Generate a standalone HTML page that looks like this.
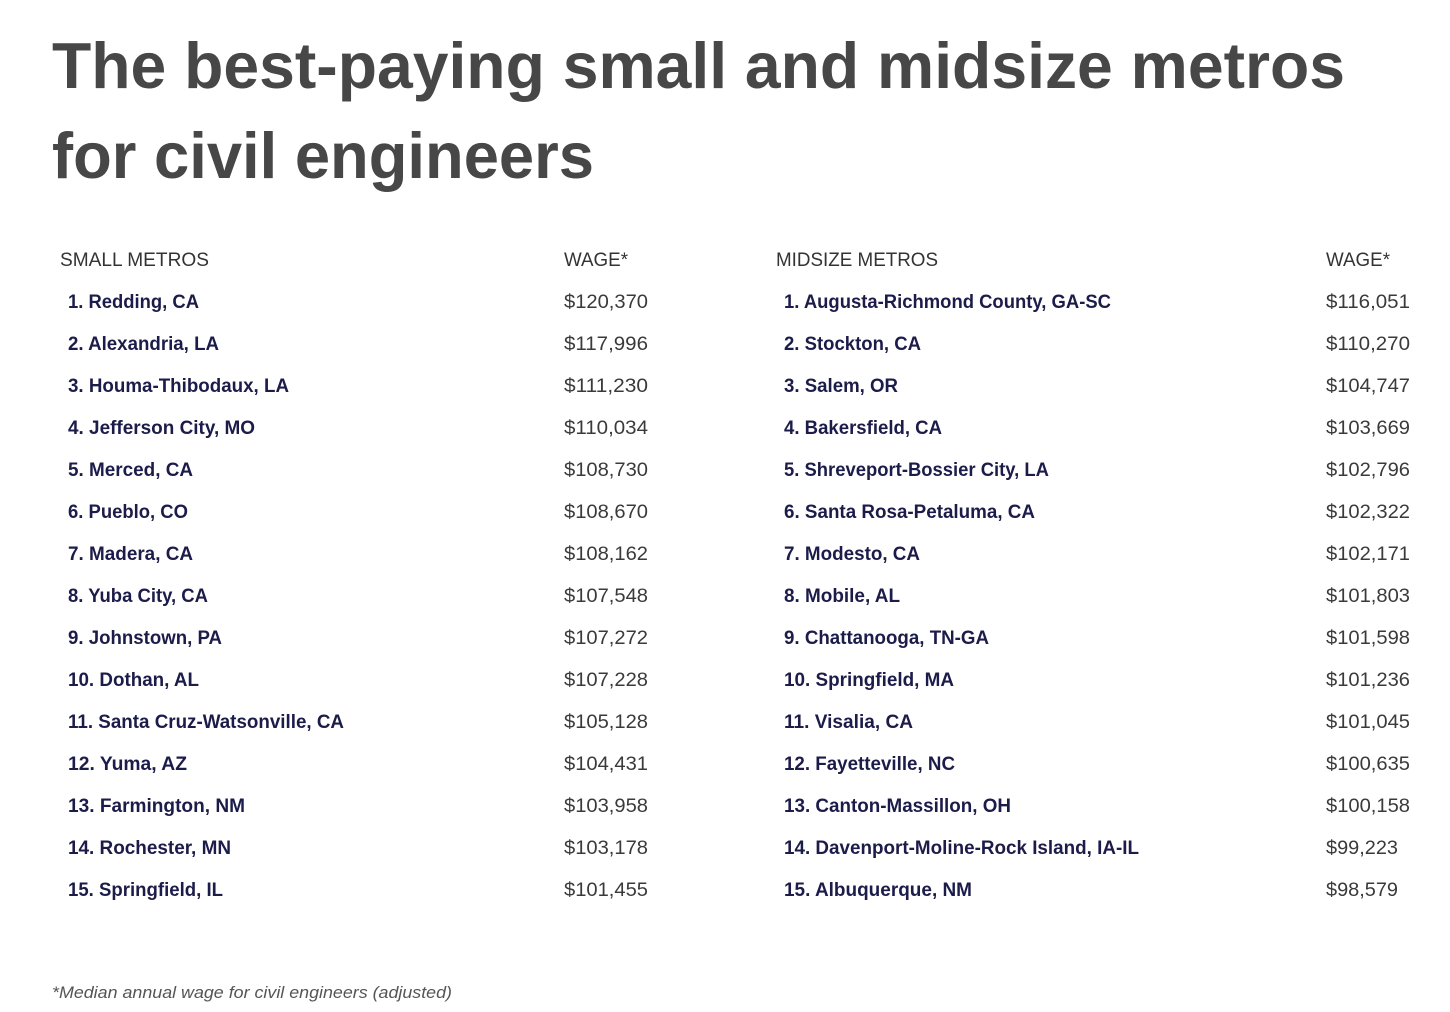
<!DOCTYPE html>
<html>
<head>
<meta charset="utf-8">
<style>
html,body{margin:0;padding:0;background:#fff;}
svg{display:block;}
.t{font-family:"Liberation Sans",sans-serif;font-weight:bold;font-size:65px;fill:#474747;}
.h{font-family:"Liberation Sans",sans-serif;font-size:19px;fill:#333333;}
.r{font-family:"Liberation Sans",sans-serif;font-weight:bold;font-size:19px;fill:#1c1c4a;}
.w{font-family:"Liberation Sans",sans-serif;font-size:19px;fill:#3a3a3a;}
.f{font-family:"Liberation Sans",sans-serif;font-style:italic;font-size:17px;fill:#555555;}
</style>
</head>
<body>
<svg width="1450" height="1012" viewBox="0 0 1450 1012" xmlns="http://www.w3.org/2000/svg">
<text class="t" x="52" y="88" textLength="1293" lengthAdjust="spacingAndGlyphs">The best-paying small and midsize metros</text>
<text class="t" x="52" y="178" textLength="542" lengthAdjust="spacingAndGlyphs">for civil engineers</text>

<text class="h" x="60" y="266" textLength="149" lengthAdjust="spacingAndGlyphs">SMALL METROS</text>
<text class="h" x="564" y="266" textLength="64" lengthAdjust="spacingAndGlyphs">WAGE*</text>
<text class="h" x="776" y="266" textLength="162" lengthAdjust="spacingAndGlyphs">MIDSIZE METROS</text>
<text class="h" x="1326" y="266" textLength="64" lengthAdjust="spacingAndGlyphs">WAGE*</text>

<g>
<text class="r" x="68" y="308" textLength="131" lengthAdjust="spacingAndGlyphs">1. Redding, CA</text>
<text class="r" x="68" y="350" textLength="151" lengthAdjust="spacingAndGlyphs">2. Alexandria, LA</text>
<text class="r" x="68" y="392" textLength="221" lengthAdjust="spacingAndGlyphs">3. Houma-Thibodaux, LA</text>
<text class="r" x="68" y="434" textLength="187" lengthAdjust="spacingAndGlyphs">4. Jefferson City, MO</text>
<text class="r" x="68" y="476" textLength="125" lengthAdjust="spacingAndGlyphs">5. Merced, CA</text>
<text class="r" x="68" y="518" textLength="120" lengthAdjust="spacingAndGlyphs">6. Pueblo, CO</text>
<text class="r" x="68" y="560" textLength="125" lengthAdjust="spacingAndGlyphs">7. Madera, CA</text>
<text class="r" x="68" y="602" textLength="140" lengthAdjust="spacingAndGlyphs">8. Yuba City, CA</text>
<text class="r" x="68" y="644" textLength="154" lengthAdjust="spacingAndGlyphs">9. Johnstown, PA</text>
<text class="r" x="68" y="686" textLength="131" lengthAdjust="spacingAndGlyphs">10. Dothan, AL</text>
<text class="r" x="68" y="728" textLength="276" lengthAdjust="spacingAndGlyphs">11. Santa Cruz-Watsonville, CA</text>
<text class="r" x="68" y="770" textLength="119" lengthAdjust="spacingAndGlyphs">12. Yuma, AZ</text>
<text class="r" x="68" y="812" textLength="177" lengthAdjust="spacingAndGlyphs">13. Farmington, NM</text>
<text class="r" x="68" y="854" textLength="163" lengthAdjust="spacingAndGlyphs">14. Rochester, MN</text>
<text class="r" x="68" y="896" textLength="155" lengthAdjust="spacingAndGlyphs">15. Springfield, IL</text>
</g>

<g>
<text class="w" x="564" y="308" textLength="84" lengthAdjust="spacingAndGlyphs">$120,370</text>
<text class="w" x="564" y="350" textLength="84" lengthAdjust="spacingAndGlyphs">$117,996</text>
<text class="w" x="564" y="392" textLength="84" lengthAdjust="spacingAndGlyphs">$111,230</text>
<text class="w" x="564" y="434" textLength="84" lengthAdjust="spacingAndGlyphs">$110,034</text>
<text class="w" x="564" y="476" textLength="84" lengthAdjust="spacingAndGlyphs">$108,730</text>
<text class="w" x="564" y="518" textLength="84" lengthAdjust="spacingAndGlyphs">$108,670</text>
<text class="w" x="564" y="560" textLength="84" lengthAdjust="spacingAndGlyphs">$108,162</text>
<text class="w" x="564" y="602" textLength="84" lengthAdjust="spacingAndGlyphs">$107,548</text>
<text class="w" x="564" y="644" textLength="84" lengthAdjust="spacingAndGlyphs">$107,272</text>
<text class="w" x="564" y="686" textLength="84" lengthAdjust="spacingAndGlyphs">$107,228</text>
<text class="w" x="564" y="728" textLength="84" lengthAdjust="spacingAndGlyphs">$105,128</text>
<text class="w" x="564" y="770" textLength="84" lengthAdjust="spacingAndGlyphs">$104,431</text>
<text class="w" x="564" y="812" textLength="84" lengthAdjust="spacingAndGlyphs">$103,958</text>
<text class="w" x="564" y="854" textLength="84" lengthAdjust="spacingAndGlyphs">$103,178</text>
<text class="w" x="564" y="896" textLength="84" lengthAdjust="spacingAndGlyphs">$101,455</text>
</g>

<g>
<text class="r" x="784" y="308" textLength="327" lengthAdjust="spacingAndGlyphs">1. Augusta-Richmond County, GA-SC</text>
<text class="r" x="784" y="350" textLength="137" lengthAdjust="spacingAndGlyphs">2. Stockton, CA</text>
<text class="r" x="784" y="392" textLength="114" lengthAdjust="spacingAndGlyphs">3. Salem, OR</text>
<text class="r" x="784" y="434" textLength="158" lengthAdjust="spacingAndGlyphs">4. Bakersfield, CA</text>
<text class="r" x="784" y="476" textLength="265" lengthAdjust="spacingAndGlyphs">5. Shreveport-Bossier City, LA</text>
<text class="r" x="784" y="518" textLength="251" lengthAdjust="spacingAndGlyphs">6. Santa Rosa-Petaluma, CA</text>
<text class="r" x="784" y="560" textLength="136" lengthAdjust="spacingAndGlyphs">7. Modesto, CA</text>
<text class="r" x="784" y="602" textLength="116" lengthAdjust="spacingAndGlyphs">8. Mobile, AL</text>
<text class="r" x="784" y="644" textLength="205" lengthAdjust="spacingAndGlyphs">9. Chattanooga, TN-GA</text>
<text class="r" x="784" y="686" textLength="170" lengthAdjust="spacingAndGlyphs">10. Springfield, MA</text>
<text class="r" x="784" y="728" textLength="129" lengthAdjust="spacingAndGlyphs">11. Visalia, CA</text>
<text class="r" x="784" y="770" textLength="171" lengthAdjust="spacingAndGlyphs">12. Fayetteville, NC</text>
<text class="r" x="784" y="812" textLength="227" lengthAdjust="spacingAndGlyphs">13. Canton-Massillon, OH</text>
<text class="r" x="784" y="854" textLength="355" lengthAdjust="spacingAndGlyphs">14. Davenport-Moline-Rock Island, IA-IL</text>
<text class="r" x="784" y="896" textLength="188" lengthAdjust="spacingAndGlyphs">15. Albuquerque, NM</text>
</g>

<g>
<text class="w" x="1326" y="308" textLength="84" lengthAdjust="spacingAndGlyphs">$116,051</text>
<text class="w" x="1326" y="350" textLength="84" lengthAdjust="spacingAndGlyphs">$110,270</text>
<text class="w" x="1326" y="392" textLength="84" lengthAdjust="spacingAndGlyphs">$104,747</text>
<text class="w" x="1326" y="434" textLength="84" lengthAdjust="spacingAndGlyphs">$103,669</text>
<text class="w" x="1326" y="476" textLength="84" lengthAdjust="spacingAndGlyphs">$102,796</text>
<text class="w" x="1326" y="518" textLength="84" lengthAdjust="spacingAndGlyphs">$102,322</text>
<text class="w" x="1326" y="560" textLength="84" lengthAdjust="spacingAndGlyphs">$102,171</text>
<text class="w" x="1326" y="602" textLength="84" lengthAdjust="spacingAndGlyphs">$101,803</text>
<text class="w" x="1326" y="644" textLength="84" lengthAdjust="spacingAndGlyphs">$101,598</text>
<text class="w" x="1326" y="686" textLength="84" lengthAdjust="spacingAndGlyphs">$101,236</text>
<text class="w" x="1326" y="728" textLength="84" lengthAdjust="spacingAndGlyphs">$101,045</text>
<text class="w" x="1326" y="770" textLength="84" lengthAdjust="spacingAndGlyphs">$100,635</text>
<text class="w" x="1326" y="812" textLength="84" lengthAdjust="spacingAndGlyphs">$100,158</text>
<text class="w" x="1326" y="854" textLength="72" lengthAdjust="spacingAndGlyphs">$99,223</text>
<text class="w" x="1326" y="896" textLength="72" lengthAdjust="spacingAndGlyphs">$98,579</text>
</g>

<text class="f" x="52" y="998" textLength="400" lengthAdjust="spacingAndGlyphs">*Median annual wage for civil engineers (adjusted)</text>
</svg>
</body>
</html>
